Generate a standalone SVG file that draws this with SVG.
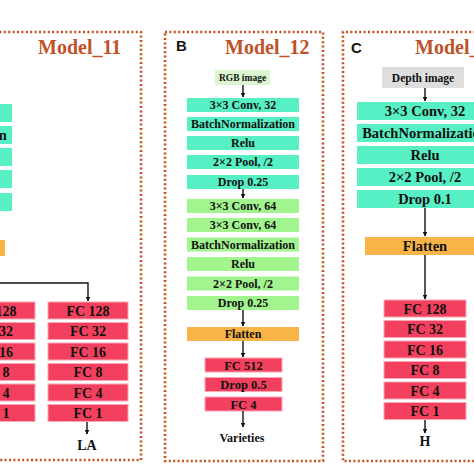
<svg xmlns="http://www.w3.org/2000/svg" width="474" height="474" viewBox="0 0 474 474">
<defs>
<marker id="ah" viewBox="0 0 10 10" refX="9" refY="5" markerWidth="5" markerHeight="5" orient="auto" markerUnits="userSpaceOnUse">
<path d="M0,0 L10,5 L0,10 z" fill="#111"/>
</marker>
<style>
.bd{fill:none;stroke:#c4521f;stroke-width:2.6;stroke-dasharray:2 2.4}
.ttl{font-family:"Liberation Serif",serif;font-weight:bold;font-size:20px;fill:#c0522a}
.lt{font-family:"Liberation Sans",sans-serif;font-weight:bold;font-size:15px;fill:#111}
.tx{font-family:"Liberation Serif",serif;font-weight:bold;fill:#111;text-anchor:middle}
.teal{fill:#56f0c4}
.grn{fill:#a2f48e}
.org{fill:#f8b446}
.fc{fill:#f4405f;stroke:#f9a6b6;stroke-width:1}
.rgb{fill:#dcf6d2}
.dep{fill:#dedede}
.ln{fill:none;stroke:#111;stroke-width:1.4}
.m{font-size:12px}
.b{font-size:14.5px}
.f{font-size:14px}
</style>
</defs>
<rect width="474" height="474" fill="#fff"/>

<!-- Panel borders -->
<path class="bd" d="M-5,32 H141 V460 H-5"/>
<rect class="bd" x="165" y="32" width="158" height="429"/>
<path class="bd" d="M480,32 H343 V461 H480"/>

<text class="ttl" x="38" y="54">Model_11</text>
<text class="lt" x="176" y="51">B</text>
<text class="ttl" x="225" y="54">Model_12</text>
<text class="lt" x="351" y="53">C</text>
<text class="ttl" x="415" y="54">Model_13</text>

<!-- Panel A (partial) -->
<g id="a_conv32"><rect class="teal" x="-124" y="104" width="136" height="18"/><text class="tx b" x="-56" y="118">3×3 Conv, 32</text></g>
<g id="a_bn"><rect class="teal" x="-124" y="126" width="136" height="18"/><text class="tx b" x="-56" y="140">BatchNormalization</text></g>
<g id="a_relu"><rect class="teal" x="-124" y="148" width="136" height="18"/><text class="tx b" x="-56" y="162">Relu</text></g>
<g id="a_pool"><rect class="teal" x="-124" y="170" width="136" height="18"/><text class="tx b" x="-56" y="184">2×2 Pool, /2</text></g>
<g id="a_drop"><rect class="teal" x="-124" y="193" width="136" height="18"/><text class="tx b" x="-56" y="207">Drop 0.1</text></g>
<g id="a_flat"><rect class="org" x="-115" y="240" width="120" height="16"/><text class="tx b" x="-55" y="253">Flatten</text></g>
<g id="a1_fc128"><rect class="fc" x="-45" y="302" width="80" height="17"/><text class="tx f" x="-5" y="315.5">FC 128</text></g>
<g id="a1_fc32"><rect class="fc" x="-45" y="322.5" width="80" height="17"/><text class="tx f" x="-5" y="336">FC 32</text></g>
<g id="a1_fc16"><rect class="fc" x="-45" y="343" width="80" height="17"/><text class="tx f" x="-5" y="356.5">FC 16</text></g>
<g id="a1_fc8"><rect class="fc" x="-45" y="363.5" width="80" height="17"/><text class="tx f" x="-5" y="377">FC 8</text></g>
<g id="a1_fc4"><rect class="fc" x="-45" y="384" width="80" height="17"/><text class="tx f" x="-5" y="397.5">FC 4</text></g>
<g id="a1_fc1"><rect class="fc" x="-45" y="404.5" width="80" height="17"/><text class="tx f" x="-5" y="418">FC 1</text></g>
<g id="a2_fc128"><rect class="fc" x="48" y="302" width="80" height="17"/><text class="tx f" x="88" y="315.5">FC 128</text></g>
<g id="a2_fc32"><rect class="fc" x="48" y="322.5" width="80" height="17"/><text class="tx f" x="88" y="336">FC 32</text></g>
<g id="a2_fc16"><rect class="fc" x="48" y="343" width="80" height="17"/><text class="tx f" x="88" y="356.5">FC 16</text></g>
<g id="a2_fc8"><rect class="fc" x="48" y="363.5" width="80" height="17"/><text class="tx f" x="88" y="377">FC 8</text></g>
<g id="a2_fc4"><rect class="fc" x="48" y="384" width="80" height="17"/><text class="tx f" x="88" y="397.5">FC 4</text></g>
<g id="a2_fc1"><rect class="fc" x="48" y="404.5" width="80" height="17"/><text class="tx f" x="88" y="418">FC 1</text></g>
<g id="a_out"><text class="tx f" x="87" y="450">LA</text></g>

<!-- Panel B -->
<g id="b_in"><rect class="rgb" x="215" y="70" width="55" height="15"/><text class="tx" style="font-size:9.5px" x="242.5" y="81">RGB image</text></g>
<g id="b_conv32"><rect class="teal" x="187" y="98" width="112" height="14"/><text class="tx m" x="243" y="109">3×3 Conv, 32</text></g>
<g id="b_bn1"><rect class="teal" x="187" y="117" width="112" height="14"/><text class="tx m" x="243" y="128">BatchNormalization</text></g>
<g id="b_relu1"><rect class="teal" x="187" y="136" width="112" height="14"/><text class="tx m" x="243" y="147">Relu</text></g>
<g id="b_pool1"><rect class="teal" x="187" y="155" width="112" height="14"/><text class="tx m" x="243" y="166">2×2 Pool, /2</text></g>
<g id="b_drop1"><rect class="teal" x="187" y="175" width="112" height="14"/><text class="tx m" x="243" y="186">Drop 0.25</text></g>
<g id="b_conv64a"><rect class="grn" x="187" y="199" width="112" height="14"/><text class="tx m" x="243" y="210">3×3 Conv, 64</text></g>
<g id="b_conv64b"><rect class="grn" x="187" y="218" width="112" height="14"/><text class="tx m" x="243" y="229">3×3 Conv, 64</text></g>
<g id="b_bn2"><rect class="grn" x="187" y="237.5" width="112" height="14"/><text class="tx m" x="243" y="248.5">BatchNormalization</text></g>
<g id="b_relu2"><rect class="grn" x="187" y="257" width="112" height="14"/><text class="tx m" x="243" y="268">Relu</text></g>
<g id="b_pool2"><rect class="grn" x="187" y="276.5" width="112" height="14"/><text class="tx m" x="243" y="287.5">2×2 Pool, /2</text></g>
<g id="b_drop2"><rect class="grn" x="187" y="296" width="112" height="14"/><text class="tx m" x="243" y="307">Drop 0.25</text></g>
<g id="b_flat"><rect class="org" x="187" y="327" width="112" height="14"/><text class="tx m" x="243" y="338">Flatten</text></g>
<g id="b_fc512"><rect class="fc" x="205" y="358" width="77" height="14"/><text class="tx" style="font-size:12.5px" x="243.5" y="369.5">FC 512</text></g>
<g id="b_drop3"><rect class="fc" x="205" y="377.5" width="77" height="14"/><text class="tx" style="font-size:12.5px" x="243.5" y="389">Drop 0.5</text></g>
<g id="b_fc4"><rect class="fc" x="205" y="397" width="77" height="14"/><text class="tx" style="font-size:12.5px" x="243.5" y="408.5">FC 4</text></g>
<g id="b_out"><text class="tx m" x="242" y="442">Varieties</text></g>

<!-- Panel C -->
<g id="c_in"><rect class="dep" x="382" y="67" width="82" height="21"/><text class="tx" style="font-size:11.5px" x="423" y="81.5">Depth image</text></g>
<g id="c_conv32"><rect class="teal" x="357" y="102" width="136" height="18"/><text class="tx b" x="425" y="116">3×3 Conv, 32</text></g>
<g id="c_bn"><rect class="teal" x="357" y="124" width="136" height="18"/><text class="tx b" x="425" y="138">BatchNormalization</text></g>
<g id="c_relu"><rect class="teal" x="357" y="146" width="136" height="18"/><text class="tx b" x="425" y="160">Relu</text></g>
<g id="c_pool"><rect class="teal" x="357" y="168" width="136" height="18"/><text class="tx b" x="425" y="182">2×2 Pool, /2</text></g>
<g id="c_drop"><rect class="teal" x="357" y="190" width="136" height="18"/><text class="tx b" x="425" y="204">Drop 0.1</text></g>
<g id="c_flat"><rect class="org" x="365" y="237" width="120" height="18"/><text class="tx b" x="425" y="251">Flatten</text></g>
<g id="c_fc128"><rect class="fc" x="384" y="300" width="82" height="17"/><text class="tx f" x="425" y="313.5">FC 128</text></g>
<g id="c_fc32"><rect class="fc" x="384" y="320.5" width="82" height="17"/><text class="tx f" x="425" y="334">FC 32</text></g>
<g id="c_fc16"><rect class="fc" x="384" y="341" width="82" height="17"/><text class="tx f" x="425" y="354.5">FC 16</text></g>
<g id="c_fc8"><rect class="fc" x="384" y="361.5" width="82" height="17"/><text class="tx f" x="425" y="375">FC 8</text></g>
<g id="c_fc4"><rect class="fc" x="384" y="382" width="82" height="17"/><text class="tx f" x="425" y="395.5">FC 4</text></g>
<g id="c_fc1"><rect class="fc" x="384" y="402.5" width="82" height="17"/><text class="tx f" x="425" y="416">FC 1</text></g>
<g id="c_out"><text class="tx f" x="425" y="446">H</text></g>

<!-- Connectors -->
<g id="connectors">
<path class="ln" d="M-5,283 H88 V301" marker-end="url(#ah)"/>
<path class="ln" d="M87,422 V434" marker-end="url(#ah)"/>
<path class="ln" d="M243,85 V97" marker-end="url(#ah)"/>
<path class="ln" d="M243,189 V198" marker-end="url(#ah)"/>
<path class="ln" d="M243,310 V326" marker-end="url(#ah)"/>
<path class="ln" d="M243,341 V357" marker-end="url(#ah)"/>
<path class="ln" d="M243,411 V427" marker-end="url(#ah)"/>
<path class="ln" d="M425,88 V101" marker-end="url(#ah)"/>
<path class="ln" d="M425,208 V236" marker-end="url(#ah)"/>
<path class="ln" d="M425,255 V299" marker-end="url(#ah)"/>
<path class="ln" d="M425,420 V433" marker-end="url(#ah)"/>
</g>
</svg>
